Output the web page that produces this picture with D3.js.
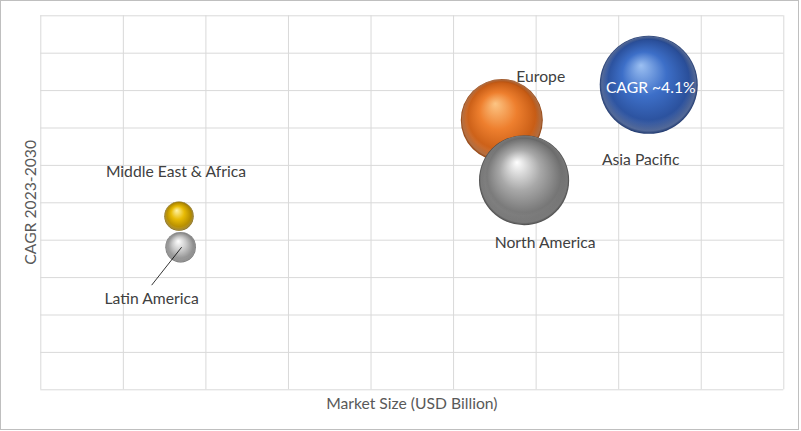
<!DOCTYPE html>
<html>
<head>
<meta charset="utf-8">
<script src="https://cdn.jsdelivr.net/npm/d3@7"></script>
<style>
  html, body { margin: 0; padding: 0; background: #fff; }
  svg { display: block; }
  text { font-family: Lato, "Open Sans", sans-serif; }
</style>
</head>
<body>
<svg id="chart" width="801" height="431"></svg>
<script>
// ---- data ----
const regions = ["Asia Pacific", "Europe", "North America", "Middle East & Africa", "Latin America"];
const marketSize = [7.37, 5.59, 5.86, 1.68, 1.70];   // x (USD Billion, unlabelled axis)
const cagr = [8.14, 7.20, 5.59, 4.63, 3.80];          // y (unlabelled axis)
const bubbleSize = [24.0, 16.8, 20.3, 2.16, 2.34];    // bubble area measure
const xTicks = [0, 1, 2, 3, 4, 5, 6, 7, 8, 9];
const yTicks = [0, 1, 2, 3, 4, 5, 6, 7, 8, 9, 10];
const cagrNote = "CAGR ~4.1%";
const xTitle = "Market Size (USD Billion)";
const yTitle = "CAGR 2023-2030";

// ---- styles ----
const palettes = [
  ["#9cc0f2", "#3d6fc8", "#2a4f9a", "#1f386e"],  // blue
  ["#fcc584", "#ee7f2e", "#c75c15", "#8c3c08"],  // orange
  ["#ffffff", "#a8a8a8", "#727272", "#484848"],  // gray
  ["#fff3a6", "#e8bb05", "#b28a00", "#7a5c00"],  // gold
  ["#ffffff", "#cacaca", "#909090", "#666666"]   // silver
];
const labelOffsets = [[-8, 74], [39, -44], [21, 62], [-3, -45], [-29, 51]];
const FS = 15.7;

const W = 801, H = 431;
const margin = { left: 40.3, right: W - 783.3, top: 15.3, bottom: H - 389.3 };

const svg = d3.select("#chart");

// outer border
svg.append("rect").attr("x", 0.5).attr("y", 0.5).attr("width", 798).attr("height", 429)
  .attr("fill", "#fff").attr("stroke", "#bfbfbf").attr("stroke-width", 1);

const x = d3.scaleLinear().domain([0, 9]).range([margin.left, W - margin.right]);
const y = d3.scaleLinear().domain([0, 10]).range([H - margin.bottom, margin.top]);
const r = d3.scaleSqrt().domain([0, 24]).range([0, 49]);

// gridlines via axes
svg.append("g")
  .attr("transform", `translate(0,${H - margin.bottom})`)
  .call(d3.axisBottom(x).tickValues(xTicks).tickSize(-(H - margin.bottom - margin.top)).tickFormat(""))
  .call(g => g.select(".domain").remove())
  .call(g => g.selectAll("line").attr("stroke", "#d9d9d9").attr("stroke-width", 1));
svg.append("g")
  .attr("transform", `translate(${margin.left},0)`)
  .call(d3.axisLeft(y).tickValues(yTicks).tickSize(-(W - margin.right - margin.left)).tickFormat(""))
  .call(g => g.select(".domain").remove())
  .call(g => g.selectAll("line").attr("stroke", "#d9d9d9").attr("stroke-width", 1));

// gradients
const defs = svg.append("defs");
palettes.forEach((p, i) => {
  const g = defs.append("radialGradient").attr("id", "grad" + i)
    .attr("cx", "50%").attr("cy", "50%").attr("r", "50%")
    .attr("fx", "42%").attr("fy", "30%");
  g.append("stop").attr("offset", "0%").attr("stop-color", p[0]);
  g.append("stop").attr("offset", "45%").attr("stop-color", p[1]);
  g.append("stop").attr("offset", "85%").attr("stop-color", p[2]);
  g.append("stop").attr("offset", "100%").attr("stop-color", p[3]);
});
const rim = defs.append("radialGradient").attr("id", "rim")
  .attr("cx", "50%").attr("cy", "50%").attr("r", "50%").attr("fx", "50%").attr("fy", "20%");
rim.append("stop").attr("offset", "0%").attr("stop-color", "#fff").attr("stop-opacity", 0);
rim.append("stop").attr("offset", "82%").attr("stop-color", "#fff").attr("stop-opacity", 0);
rim.append("stop").attr("offset", "96%").attr("stop-color", "#fff").attr("stop-opacity", 0.22);
rim.append("stop").attr("offset", "100%").attr("stop-color", "#fff").attr("stop-opacity", 0);

const data = regions.map((name, i) => ({ name, i, x: marketSize[i], y: cagr[i], s: bubbleSize[i] }));

const bubbles = svg.append("g");
data.forEach(d => {
  bubbles.append("circle").attr("cx", x(d.x)).attr("cy", y(d.y)).attr("r", r(d.s))
    .attr("fill", `url(#grad${d.i})`);
  bubbles.append("circle").attr("cx", x(d.x)).attr("cy", y(d.y)).attr("r", r(d.s))
    .attr("fill", "url(#rim)");
});

// leader line for Latin America
const la = data[4];
svg.append("line")
  .attr("x1", x(la.x) + labelOffsets[4][0]).attr("y1", y(la.y) + labelOffsets[4][1] - 13)
  .attr("x2", x(la.x) + 1).attr("y2", y(la.y))
  .attr("stroke", "#000").attr("stroke-width", 0.8);

// labels
svg.append("g").selectAll("text").data(data).join("text")
  .attr("x", d => x(d.x) + labelOffsets[d.i][0])
  .attr("y", d => y(d.y) + labelOffsets[d.i][1])
  .attr("text-anchor", "middle").attr("dominant-baseline", "central")
  .attr("font-size", FS).attr("fill", "#404040")
  .text(d => d.name);

// CAGR note inside Asia Pacific bubble
svg.append("text")
  .attr("x", x(data[0].x) + 2).attr("y", y(data[0].y) + 2)
  .attr("text-anchor", "middle").attr("dominant-baseline", "central")
  .attr("font-size", FS).attr("fill", "#ffffff")
  .text(cagrNote);

// axis titles
svg.append("text")
  .attr("x", (margin.left + W - margin.right) / 2).attr("y", 403)
  .attr("text-anchor", "middle").attr("dominant-baseline", "central")
  .attr("font-size", FS).attr("fill", "#595959")
  .text(xTitle);
svg.append("text")
  .attr("transform", `translate(30,${(margin.top + H - margin.bottom) / 2}) rotate(-90)`)
  .attr("text-anchor", "middle").attr("dominant-baseline", "central")
  .attr("font-size", FS).attr("fill", "#595959")
  .text(yTitle);
</script>
</body>
</html>
